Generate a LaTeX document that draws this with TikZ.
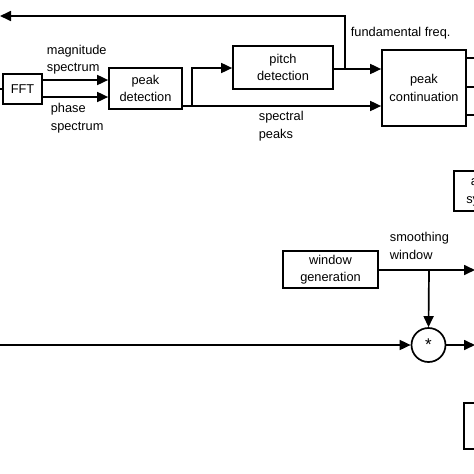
\documentclass[tikz,border=0pt]{standalone}
\usepackage{fontspec}
\setmainfont{Liberation Sans}
\usetikzlibrary{arrows.meta}
\begin{document}
\begin{tikzpicture}[x=1pt,y=-1pt,
  line width=1.7pt,
  every node/.style={font=\fontsize{12.8}{17.5}\selectfont},
  blk/.style={draw,rectangle,align=center,inner sep=0pt},
  lbl/.style={align=left,inner sep=0pt,anchor=west},
  arr/.style={-{Triangle[length=11pt,width=10pt]}}]
\useasboundingbox (0,0) rectangle (474,474);
\clip (0,0) rectangle (474,474);
% blocks
\node[blk,minimum width=39pt,minimum height=30pt] (fft) at (22.5,89) {FFT};
\node[blk,minimum width=73pt,minimum height=41pt] (pd) at (145.5,88.5) {peak\\detection};
\node[blk,minimum width=100pt,minimum height=43pt] (pitch) at (283,67.5) {pitch\\detection};
\node[blk,minimum width=84pt,minimum height=76pt] (pc) at (424,88) {peak\\continuation};
\node[blk,minimum width=78pt,minimum height=40pt] (as) at (493,191) {additive\\synthesis};
\node[blk,minimum width=95pt,minimum height=37pt] (wg) at (330.5,269.5) {window\\generation};
\node[draw,circle,minimum size=34pt,inner sep=0pt,font=\fontsize{17}{17}\selectfont] (mul) at (428.5,345) {*};
\node[blk,minimum width=78pt,minimum height=46pt] (bb) at (503,426) {};
% coordinates
\coordinate (in0) at (0,89);
\coordinate (in1) at (0,345);
\coordinate (fb) at (0,16);
\coordinate (br1) at (192,106);
\coordinate (br2) at (345,69);
\coordinate (br3) at (429,270);
\coordinate (o1) at (480,58);
\coordinate (o2) at (480,87);
\coordinate (o3) at (480,115);
\coordinate (o4) at (475,270);
\coordinate (o5) at (475,345);
% connectors
\draw (in0) -- (fft.west);
\draw[arr] (fft.east |- 0,80) -- (pd.west |- 0,80);
\draw[arr] (fft.east |- 0,97) -- (pd.west |- 0,97);
\draw[arr] (pd.east |- br1) -- (pc.west |- br1);
\draw[arr] (br1) -- (192,68) -- (pitch.west |- 0,68);
\draw[arr] (pitch.east |- br2) -- (pc.west |- br2);
\draw[arr] (br2) -- (br2 |- fb) -- (fb);
\draw (pc.east |- o1) -- (o1);
\draw (pc.east |- o2) -- (o2);
\draw (pc.east |- o3) -- (o3);
\draw[arr] (wg.east |- br3) -- (o4);
\draw[arr] (br3) -- (mul.north);
\draw[arr] (in1) -- (mul.west);
\draw[arr] (mul.east) -- (o5);
% labels
\node[lbl] (l1) at (46,59.5) {magnitude\\spectrum};
\node[lbl] (l2) at (50,118) {phase\\spectrum};
\node[lbl] (l3) at (258,126) {spectral\\peaks};
\node[lbl] (l4) at (350,33) {fundamental freq.};
\node[lbl] (l5) at (389,246) {smoothing\\window};
\end{tikzpicture}
\end{document}
